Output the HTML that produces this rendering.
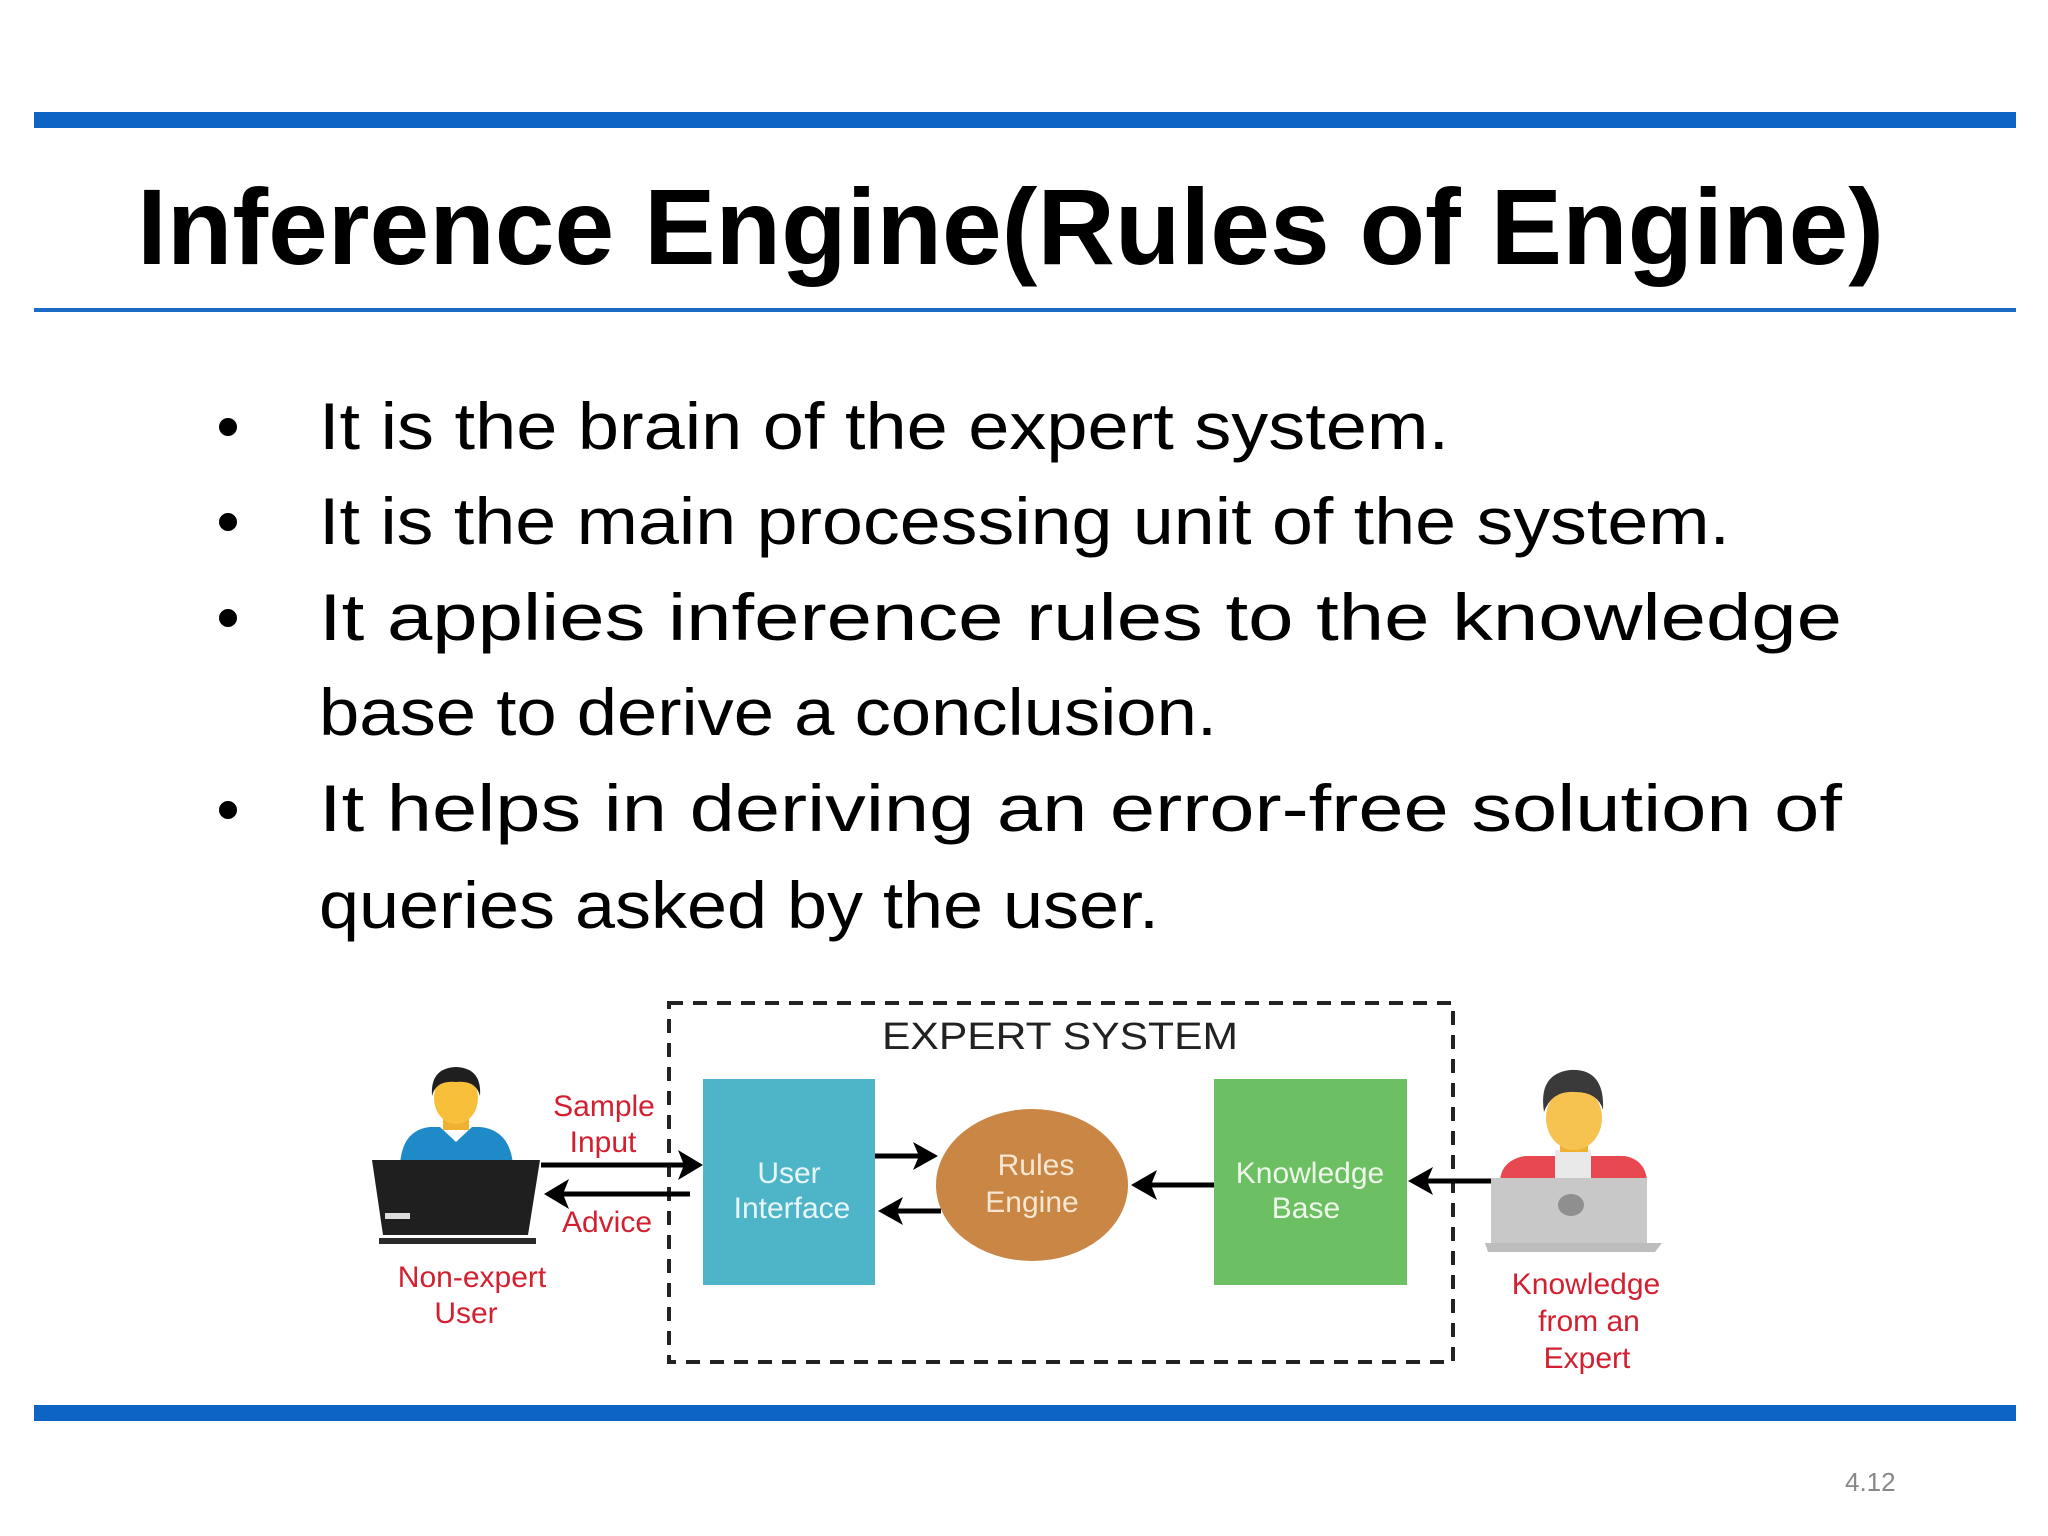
<!DOCTYPE html>
<html><head><meta charset="utf-8"><style>
html,body{margin:0;padding:0;background:#fff;}
svg{display:block;}
</style></head><body>
<svg width="2048" height="1536" viewBox="0 0 2048 1536" xmlns="http://www.w3.org/2000/svg" font-family="'Liberation Sans', sans-serif">
<rect width="2048" height="1536" fill="#fff"/>
<rect x="34" y="112" width="1982" height="16" fill="#0e64c4"/>
<text x="137" y="264" font-size="108" font-weight="bold" fill="#000" textLength="1747" lengthAdjust="spacingAndGlyphs">Inference Engine(Rules of Engine)</text>
<rect x="34" y="308" width="1982" height="4" fill="#1a6bc6"/>

<g font-size="66" fill="#000">
<circle cx="228" cy="427" r="9"/>
<circle cx="228" cy="522" r="9"/>
<circle cx="228" cy="618" r="9"/>
<circle cx="228" cy="810" r="9"/>
<text x="319" y="449" textLength="1130" lengthAdjust="spacingAndGlyphs">It is the brain of the expert system.</text>
<text x="319" y="544" textLength="1411" lengthAdjust="spacingAndGlyphs">It is the main processing unit of the system.</text>
<text x="319" y="640" textLength="1523" lengthAdjust="spacingAndGlyphs">It  applies  inference  rules  to  the  knowledge</text>
<text x="319" y="735" textLength="898" lengthAdjust="spacingAndGlyphs">base to derive a conclusion.</text>
<text x="319" y="831" textLength="1523" lengthAdjust="spacingAndGlyphs">It  helps  in  deriving  an  error-free  solution  of</text>
<text x="319" y="928" textLength="840" lengthAdjust="spacingAndGlyphs">queries asked by the user.</text>
</g>

<!-- diagram -->
<rect x="669" y="1003" width="784" height="359" fill="none" stroke="#222" stroke-width="4" stroke-dasharray="14 10"/>
<text x="1060" y="1049" font-size="38" fill="#222" text-anchor="middle" textLength="356" lengthAdjust="spacingAndGlyphs">EXPERT SYSTEM</text>

<rect x="703" y="1079" width="172" height="206" fill="#4eb5c8"/>
<text x="789" y="1183" font-size="30" fill="#e8f6f8" text-anchor="middle">User</text>
<text x="792" y="1218" font-size="30" fill="#e8f6f8" text-anchor="middle">Interface</text>

<ellipse cx="1032" cy="1185" rx="96" ry="76" fill="#c98644"/>
<text x="1036" y="1175" font-size="30" fill="#f7e6d2" text-anchor="middle">Rules</text>
<text x="1032" y="1212" font-size="30" fill="#f7e6d2" text-anchor="middle">Engine</text>

<rect x="1214" y="1079" width="193" height="206" fill="#6cbf63"/>
<text x="1310" y="1183" font-size="30" fill="#eef8ea" text-anchor="middle">Knowledge</text>
<text x="1306" y="1218" font-size="30" fill="#eef8ea" text-anchor="middle">Base</text>

<g stroke="#000" stroke-width="5" fill="none">
<line x1="541" y1="1165" x2="690" y2="1165"/>
<line x1="690" y1="1194" x2="556" y2="1194"/>
<line x1="875" y1="1156" x2="926" y2="1156"/>
<line x1="941" y1="1211" x2="890" y2="1211"/>
<line x1="1214" y1="1185" x2="1144" y2="1185"/>
<line x1="1494" y1="1181" x2="1420" y2="1181"/>
</g>
<g fill="#000">
<polygon points="703,1165 678,1150 684,1165 678,1180"/>
<polygon points="544,1194 569,1179 563,1194 569,1209"/>
<polygon points="938,1156 913,1142 919,1156 913,1170"/>
<polygon points="878,1211 903,1197 897,1211 903,1225"/>
<polygon points="1131,1185 1157,1170 1151,1185 1157,1200"/>
<polygon points="1408,1181 1433,1167 1427,1181 1433,1195"/>
</g>

<g font-size="30" fill="#d32030" text-anchor="middle">
<text x="604" y="1116">Sample</text>
<text x="603" y="1152">Input</text>
<text x="607" y="1232">Advice</text>
<text x="472" y="1287">Non-expert</text>
<text x="466" y="1323">User</text>
<text x="1586" y="1294">Knowledge</text>
<text x="1589" y="1331">from an</text>
<text x="1587" y="1368">Expert</text>
</g>

<!-- left person -->
<path d="M400 1165 Q402 1130 430 1127 L480 1127 Q510 1130 513 1165 Z" fill="#1e8ac7"/>
<path d="M440 1127 L456 1142 L472 1127 Z" fill="#fff"/>
<rect x="443" y="1108" width="26" height="22" fill="#f0b030"/>
<ellipse cx="456" cy="1098" rx="22" ry="26" fill="#f7bf3a"/>
<path d="M432 1096 Q430 1068 456 1067 Q482 1068 480 1096 Q476 1080 456 1082 Q436 1080 432 1096 Z" fill="#1f1f1f"/>
<path d="M372 1160 L540 1160 L528 1235 L383 1235 Z" fill="#1f1f1f"/>
<rect x="379" y="1238" width="157" height="6" fill="#2a2a2a"/>
<rect x="385" y="1213" width="25" height="6" fill="#ddd"/>

<!-- right person -->
<path d="M1500 1180 Q1502 1160 1525 1156 L1625 1156 Q1645 1160 1647 1180 Z" fill="#e8484f"/>
<rect x="1555" y="1150" width="36" height="30" fill="#e9e9e9"/>
<rect x="1560" y="1130" width="28" height="22" fill="#f0b030"/>
<ellipse cx="1574" cy="1118" rx="28" ry="32" fill="#f7c350"/>
<path d="M1544 1112 Q1538 1074 1570 1070 Q1605 1068 1603 1110 Q1598 1092 1575 1092 Q1552 1090 1544 1112 Z" fill="#3a3a3a"/>
<rect x="1491" y="1178" width="156" height="65" fill="#c8c8c8"/>
<path d="M1485 1243 L1662 1243 L1655 1252 L1488 1252 Z" fill="#bdbdbd"/>
<ellipse cx="1571" cy="1205" rx="13" ry="11" fill="#8f8f8f"/>

<rect x="34" y="1405" width="1982" height="16" fill="#0e64c4"/>
<text x="1845" y="1491" font-size="26" fill="#888">4.12</text>
</svg>
</body></html>
